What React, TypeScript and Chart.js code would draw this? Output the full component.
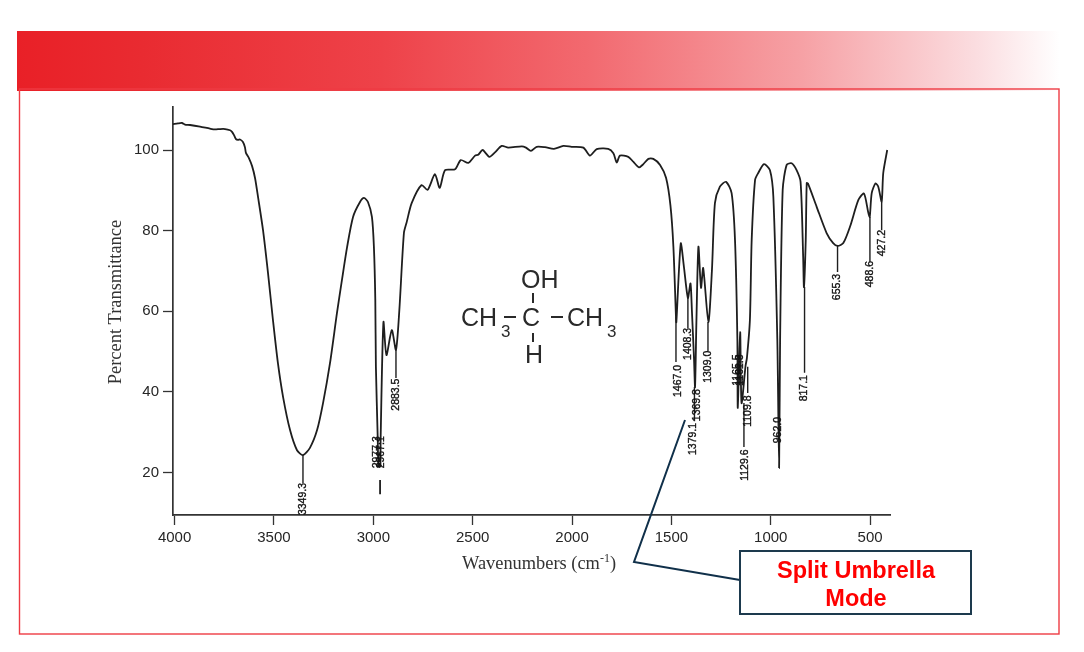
import React, { useEffect, useRef } from "react";
import { Chart, registerables } from "chart.js";

Chart.register(...registerables);

// Spectrum trace (null percent = break in the scanned trace)
const wavenumbers = [
  4008, 3983, 3963, 3948, 3922, 3872, 3822, 3797, 3771, 3746, 3721, 3711, 3701, 3691, 3681, 3671, 3656, 3646, 3641, 3626,
  3610, 3595, 3580, 3555, 3530, 3505, 3480, 3454, 3419, 3384, 3354, 3319, 3283, 3253, 3218, 3183, 3158, 3132, 3102, 3067,
  3047, 3027, 3007, 2997, 2990, 2987, 2978, 2975, 2970, 2966, 2966, 2965, 2964, 2963, 2949, 2934, 2907, 2886, 2869, 2846,
  2832, 2807, 2757, 2727, 2690, 2666, 2639, 2589, 2560, 2522, 2488, 2472, 2450, 2416, 2388, 2354, 2321, 2253, 2232, 2207,
  2178, 2136, 2091, 2044, 2002, 1943, 1910, 1876, 1818, 1792, 1775, 1759, 1717, 1692, 1663, 1641, 1616, 1591, 1557, 1527,
  1505, 1490, 1477, 1475, 1453, 1437, 1417, 1404, 1397, 1386, 1381, 1374, 1364, 1351, 1340, 1314, 1296, 1281, 1256, 1225,
  1197, 1180, 1168, 1166, 1154, 1147, 1127, 1120, 1105, 1096, 1079, 1063, 1034, 1004, 987, 967, 958, 953, 940, 920,
  895, 870, 850, 837, 833, 824, 819, 813, 769, 719, 686, 663, 635, 601, 559, 531, 509, 502, 492, 473,
  459, 442, 434, 414,
];
const percents = [
  106.4, 106.6, 106.7, 106.3, 106.2, 105.8, 105.3, 105.1, 105.2, 105.2, 104.9, 104.5, 103.7, 102.7, 102.5, 102.6, 102.0, 100.7, 99.3, 98.0,
  96.0, 93.0, 88.3, 80.1, 69.5, 57.8, 47.1, 38.7, 30.5, 25.5, 24.3, 26.1, 30.5, 37.2, 47.1, 59.5, 67.7, 75.9, 83.4, 87.1,
  88.1, 87.1, 83.4, 75.9, 62.8, 46.2, 28.8, 21.3, null, 18.1, 14.6, null, 21.3, 28.8, 57.3, 49.1, 55.3, 50.4, 60.3, 79.4,
  82.1, 86.8, 91.3, 90.1, 94.0, 90.6, 95.0, 95.2, 97.5, 96.8, 98.6, 98.8, 100.0, 98.3, 99.4, 101.0, 100.6, 100.9, 100.6, 99.8,
  100.8, 100.7, 100.3, 101.0, 100.8, 100.6, 98.6, 100.2, 100.3, 99.2, 96.9, 98.6, 98.3, 97.1, 95.7, 96.5, 97.8, 97.8, 96.3, 93.1,
  86.3, 76.0, 58.6, 57.3, 76.8, 71.0, 63.3, 66.9, 60.3, 47.9, 41.2, 57.8, 76.0, 65.8, 70.7, 57.3, 70.2, 86.8, 90.9, 92.1,
  89.3, 77.7, 52.9, 36.0, 54.8, 37.2, 46.4, 48.4, 57.8, 77.7, 92.6, 94.3, 96.5, 95.0, 88.4, 52.9, 21.1, 52.9, 90.1, 96.3,
  96.7, 95.0, 92.1, 73.5, 66.0, 77.7, 91.8, 91.7, 85.9, 79.4, 76.9, 76.2, 76.9, 81.0, 87.6, 89.2, 84.4, 83.4, 89.3, 91.7,
  90.9, 87.2, 94.3, 100.0,
];

// Peak leader lines
const leaderWaves = [3354, 2886, 1477, 1417, 1384, 1316, 1135, 1116, 830, 664, 501, 442];
const leaderFrom = [24.3, 50.4, 58.6, 63.3, 41.2, 57.3, 37.2, 46.2, 66.0, 76.2, 83.4, 87.1];
const leaderTo = [17.3, 43.4, 47.4, 55.8, 32.7, 50.1, 26.3, 39.7, 44.7, 69.7, 72.2, 80.1];

// Peak labels (rotated)
const peakLabels = ["3349.3", "2883.5", "2977.3", "2967.1", "1467.0", "1408.3", "1379.1", "1369.8", "1309.0", "1165.5", "1161.3", "1129.6", "1109.8", "962.0", "817.1", "655.3", "488.6", "427.2"];
const peakLabelWaves = [3354, 2886, 2979, 2959, 1467, 1417, 1389, 1371, 1316, 1167, 1152, 1130, 1112, 961, 830, 664, 501, 442];
const peakLabelPercents = [13.4, 39.3, 25.0, 25.0, 42.7, 51.9, 28.3, 36.7, 46.2, 45.4, 45.4, 21.8, 35.2, 30.5, 40.9, 66.0, 69.2, 76.9];

const xTicks = [4000, 3500, 3000, 2500, 2000, 1500, 1000, 500];
const yTicks = [20, 40, 60, 80, 100];
const xTitle = "Wavenumbers (cm";
const xTitleSup = "-1";
const yTitle = "Percent Transmittance";
const calloutLines = ["Split Umbrella", "Mode"];

const INK = "#1e1e1e";
const SANS = '"Liberation Sans", Arial, sans-serif';
const SERIF = '"Liberation Serif", "Times New Roman", serif';

const annotations = {
  id: "annotations",
  afterDatasetsDraw(chart: any) {
    const { ctx, scales } = chart;
    ctx.save();
    ctx.fillStyle = "#111111";
    ctx.strokeStyle = "#111111";
    ctx.lineWidth = 0.35;
    ctx.font = `10.5px ${SANS}`;
    ctx.textAlign = "center";
    ctx.textBaseline = "middle";
    peakLabels.forEach((text, i) => {
      ctx.save();
      ctx.translate(scales.x.getPixelForValue(peakLabelWaves[i]), scales.y.getPixelForValue(peakLabelPercents[i]));
      ctx.rotate(-Math.PI / 2);
      ctx.fillText(text, 0, 0);
      ctx.strokeText(text, 0, 0);
      ctx.restore();
    });

    ctx.fillStyle = "#333333";
    ctx.font = `18.4px ${SERIF}`;
    ctx.save();
    ctx.translate(116, 302);
    ctx.rotate(-Math.PI / 2);
    ctx.fillText(yTitle, 0, 0);
    ctx.restore();

    ctx.textAlign = "left";
    ctx.font = `18.4px ${SERIF}`;
    ctx.fillText(xTitle, 462, 564);
    const w = ctx.measureText(xTitle).width;
    ctx.font = `12px ${SERIF}`;
    ctx.fillText(xTitleSup, 462 + w, 559);
    const w2 = ctx.measureText(xTitleSup).width;
    ctx.font = `18.4px ${SERIF}`;
    ctx.fillText(")", 462 + w + w2, 564);
    ctx.restore();
  },
};

export default function App() {
  const ref = useRef<HTMLCanvasElement | null>(null);

  useEffect(() => {
    const trace = wavenumbers.map((x, i) => ({ x, y: percents[i] }));
    const leaders = leaderWaves.map((x, i) => ({
      label: peakLabels[i],
      data: [
        { x, y: leaderFrom[i] },
        { x, y: leaderTo[i] },
      ],
      borderColor: INK,
      borderWidth: 1.4,
      pointRadius: 0,
      showLine: true,
    }));
    const chart = new Chart(ref.current as HTMLCanvasElement, {
      type: "scatter",
      data: {
        datasets: [
          {
            label: "Percent Transmittance",
            data: trace,
            showLine: true,
            spanGaps: false,
            borderColor: INK,
            borderWidth: 1.8,
            pointRadius: 0,
            tension: 0.25,
          },
          ...leaders,
        ],
      },
      options: {
        animation: false,
        responsive: false,
        devicePixelRatio: 1,
        layout: { padding: { left: 0, top: 107, right: 194, bottom: 0 } },
        plugins: { legend: { display: false }, tooltip: { enabled: false }, title: { display: false } },
        scales: {
          x: {
            type: "linear",
            reverse: true,
            min: 400,
            max: 4008,
            afterBuildTicks: (s: any) => {
              s.ticks = xTicks.map((value) => ({ value }));
            },
            afterFit: (s: any) => {
              s.height = 137;
            },
            grid: { drawOnChartArea: false, tickLength: 10, tickColor: "#333", tickWidth: 1.3 },
            border: { color: "#333", width: 1.7 },
            ticks: { color: "#262626", font: { family: SANS, size: 15 }, padding: 4, maxRotation: 0, autoSkip: false, callback: (v: any) => String(v) },
          },
          y: {
            type: "linear",
            min: 9.43,
            max: 110.67,
            afterBuildTicks: (s: any) => {
              s.ticks = yTicks.map((value) => ({ value }));
            },
            afterFit: (s: any) => {
              s.width = 173;
            },
            grid: { drawOnChartArea: false, tickLength: 10, tickColor: "#333", tickWidth: 1.3 },
            border: { color: "#333", width: 1.7 },
            ticks: { color: "#262626", font: { family: SANS, size: 15 }, padding: 4, callback: (v: any) => String(v) },
          },
        },
      },
      plugins: [annotations],
    } as any);
    return () => chart.destroy();
  }, []);

  const chem = { fontFamily: SANS, fill: "#2a2a2a" };
  return (
    <div style={{ position: "fixed", left: 0, top: 0, width: 1084, height: 652, background: "#fff", overflow: "hidden" }}>
      <div style={{ position: "absolute", left: 17, top: 31, width: 1043, height: 60, background: "linear-gradient(90deg,#e92027 0%,#e92b31 12%,#ee4249 35%,#f26a70 55%,#f6a0a4 75%,#fbdde0 92%,#ffffff 100%)" }} />
      <canvas ref={ref} width={1084} height={652} style={{ position: "absolute", left: 0, top: 0, display: "block" }} />
      <svg width={1084} height={652} style={{ position: "absolute", left: 0, top: 0 }}>
        <rect x={19.5} y={89} width={1039.5} height={545} fill="none" stroke="#ee3b43" strokeWidth={1.4} />
        <text x={461} y={326} fontSize={25} {...chem}>CH</text>
        <text x={501} y={337} fontSize={17} {...chem}>3</text>
        <line x1={504} x2={516} y1={317} y2={317} stroke="#2a2a2a" strokeWidth={2} />
        <text x={522} y={326} fontSize={25} {...chem}>C</text>
        <line x1={551} x2={563} y1={317} y2={317} stroke="#2a2a2a" strokeWidth={2} />
        <text x={567} y={326} fontSize={25} {...chem}>CH</text>
        <text x={607} y={337} fontSize={17} {...chem}>3</text>
        <text x={521} y={288} fontSize={25} {...chem}>OH</text>
        <line x1={533} x2={533} y1={293} y2={303} stroke="#2a2a2a" strokeWidth={2} />
        <line x1={533} x2={533} y1={333} y2={342} stroke="#2a2a2a" strokeWidth={2} />
        <text x={525} y={363} fontSize={25} {...chem}>H</text>
        <polyline points="685,420 634,562 740,580" fill="none" stroke="#10304a" strokeWidth={2} />
        <rect x={740} y={551} width={231} height={63} fill="#fff" stroke="#1d3a4e" strokeWidth={2} />
        <text x={856} y={578} fontSize={23.5} fontWeight={700} textAnchor="middle" fontFamily={SANS} fill="#ff0000">{calloutLines[0]}</text>
        <text x={856} y={606} fontSize={23.5} fontWeight={700} textAnchor="middle" fontFamily={SANS} fill="#ff0000">{calloutLines[1]}</text>
      </svg>
    </div>
  );
}
